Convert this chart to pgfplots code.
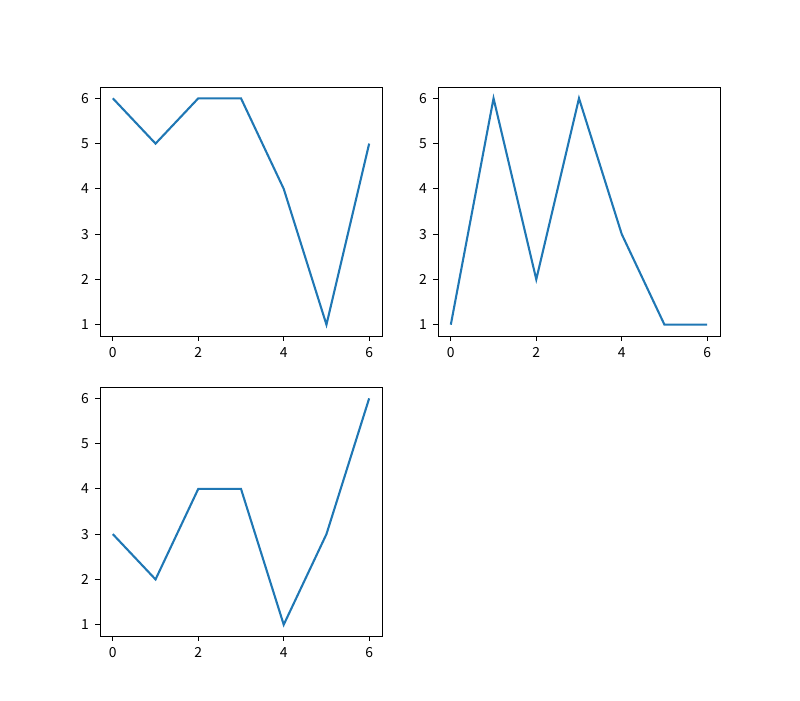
\documentclass[border=0pt]{standalone}
\usepackage{fontspec}
\setmainfont{Noto Sans CJK SC}
\usepackage{pgfplots}
\pgfplotsset{compat=1.18}
\definecolor{mplblue}{HTML}{1F77B4}
\pgfplotsset{
  mystyle/.style={
    scale only axis,
    width=203.04pt, height=179.28pt,
    xmin=-0.3, xmax=6.3, ymin=0.75, ymax=6.25,
    xtick={0,2,4,6}, ytick={1,2,3,4,5,6},
    tick align=outside, tick pos=left,
    major tick length=3.5pt,
    axis line style={line width=0.6pt},
    every tick/.style={black, line width=0.6pt},
    tick label style={font=\fontsize{10}{12}\selectfont},
    /pgf/number format/assume math mode=true,
    xticklabel style={yshift=-1pt},
    yticklabel style={xshift=-1pt},
    anchor=south west,
  }
}
\begin{document}
\begin{tikzpicture}
\path[use as bounding box] (0,0) rectangle (576pt,504pt);
\begin{axis}[mystyle, at={(72pt,262.08pt)}]
\addplot[mplblue, line width=1.5pt] coordinates {(0,6) (1,5) (2,6) (3,6) (4,4) (5,1) (6,5)};
\end{axis}
\begin{axis}[mystyle, at={(315.36pt,262.08pt)}]
\addplot[mplblue, line width=1.5pt] coordinates {(0,1) (1,6) (2,2) (3,6) (4,3) (5,1) (6,1)};
\end{axis}
\begin{axis}[mystyle, at={(72pt,46.08pt)}]
\addplot[mplblue, line width=1.5pt] coordinates {(0,3) (1,2) (2,4) (3,4) (4,1) (5,3) (6,6)};
\end{axis}
\end{tikzpicture}
\end{document}
